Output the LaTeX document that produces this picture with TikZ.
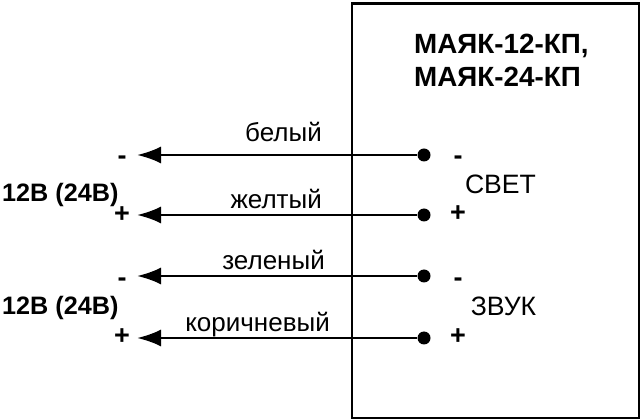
\documentclass[tikz,border=0pt]{standalone}
\usepackage{fontspec}
\setmainfont{Liberation Sans}
\usetikzlibrary{arrows.meta}
\begin{document}
\begin{tikzpicture}[
      x=1pt, y=-1pt,
      dot/.style={circle, fill=black, inner sep=0pt, minimum size=13pt},
      arrow/.style={{Latex[length=24pt,width=17pt]}-, line width=2.6pt},
      title/.style={font=\bfseries\fontsize{27.8}{32}\selectfont, inner sep=0pt, anchor=base west},
      wire/.style={font=\fontsize{26}{30}\selectfont, inner sep=0pt, anchor=base east},
      group/.style={font=\fontsize{26.6}{30}\selectfont, inner sep=0pt},
      volt/.style={font=\bfseries\fontsize{25.2}{30}\selectfont, inner sep=0pt, anchor=base west},
      sign/.style={font=\bfseries\fontsize{27}{30}\selectfont, inner sep=0pt}
    ]
    \useasboundingbox (0,0) rectangle (640,419);

    % Device
    \node[draw, line width=2.6pt, minimum width=287.5pt, minimum height=415pt, inner sep=0pt, anchor=north west] (device) at (350.5,2) {};
    \node[title] (name1) at (414,54) {МАЯК-12-КП,};
    \node[title] (name2) at (414,87) {МАЯК-24-КП};
    \node[group] (light) at (500.5,184) {СВЕТ};
    \node[group] (sound) at (503.5,306) {ЗВУК};

    % Terminals
    \node[dot] (t1) at (424,155) {};
    \node[dot] (t2) at (424,215) {};
    \node[dot] (t3) at (424,276) {};
    \node[dot] (t4) at (424,338) {};
    \coordinate (e1) at (137,155);
    \coordinate (e2) at (137,215);
    \coordinate (e3) at (137,276);
    \coordinate (e4) at (137,338);

    % Wires
    \draw[arrow] (e1) -- (t1);
    \draw[arrow] (e2) -- (t2);
    \draw[arrow] (e3) -- (t3);
    \draw[arrow] (e4) -- (t4);
    \node[wire] (white) at (322,142) {белый};
    \node[wire] (yellow) at (322,209) {желтый};
    \node[wire] (green) at (325,270) {зеленый};
    \node[wire] (brown) at (330,332) {коричневый};

    % Signs
    \node[sign] (m1) at (122,160) {-};
    \node[sign] (p1) at (122,215) {+};
    \node[sign] (m2) at (122,282) {-};
    \node[sign] (p2) at (122,337) {+};
    \node[sign] (m3) at (458,160) {-};
    \node[sign] (p3) at (458,214) {+};
    \node[sign] (m4) at (458,282) {-};
    \node[sign] (p4) at (458,337) {+};

    % Supply
    \node[volt] (supply1) at (2,202) {12В (24В)};
    \node[volt] (supply2) at (2,315) {12В (24В)};
  \end{tikzpicture}
\end{document}
